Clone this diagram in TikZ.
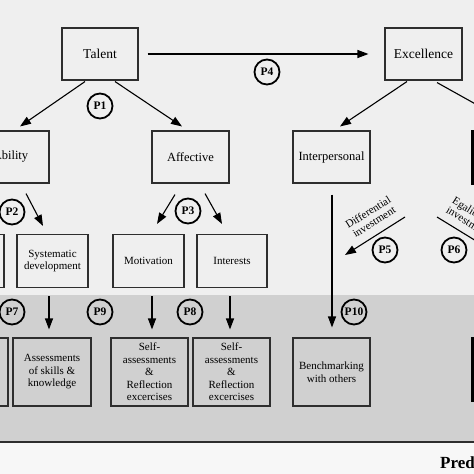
\documentclass[tikz,border=0pt]{standalone}
\usepackage{fontspec}
\setmainfont{Liberation Serif}
\usetikzlibrary{arrows.meta,calc}
\definecolor{bgtop}{HTML}{EFEFEF}
\definecolor{band}{HTML}{D0D0D0}
\definecolor{edge}{HTML}{2E2E2E}
\begin{document}
\begin{tikzpicture}[x=1pt,y=-1pt,
  box/.style={draw=edge, line width=1.1pt, fill=bgtop, align=center, inner sep=1pt,
    minimum width=77pt, minimum height=52pt, font=\fontsize{12.5}{14}\selectfont},
  topbox/.style={box, font=\fontsize{13.5}{15}\selectfont},
  midbox/.style={box, minimum width=71pt, minimum height=53pt, font=\fontsize{11}{12}\selectfont},
  lowbox/.style={box, fill=band, minimum width=77pt, minimum height=68pt, font=\fontsize{11}{12.5}\selectfont},
  darkbox/.style={draw=black, line width=3pt, fill=bgtop, minimum width=77pt, minimum height=52pt},
  pc/.style={circle, draw=black, line width=1.8pt, minimum size=25pt, inner sep=0pt,
    font=\bfseries\fontsize{11.5}{11.5}\selectfont},
  arr/.style={draw=black, line width=1.1pt, -{Triangle[length=11pt,width=8pt]}},
  lab/.style={align=center, font=\fontsize{11}{11.5}\selectfont, inner sep=0pt}]
\useasboundingbox (0,0) rectangle (474,474);
\clip (0,0) rectangle (474,474);
\fill[white!97!black] (0,0) rectangle (474,474);
\fill[bgtop] (0,0) rectangle (474,295);
\fill[band] (0,295) rectangle (474,442);
\draw[line width=1.3pt, edge] (0,442) -- (474,442);

% row 1
\node[topbox, minimum width=76pt] (talent) at (100,54) {Talent};
\node[topbox] (excellence) at (423.5,54) {Excellence};
% row 2
\node[box] (ability) at (10.5,157) {Ability};
\node[box] (affective) at (190.5,157) {Affective};
\node[box] (interpersonal) at (331.5,157) {Interpersonal};
\node[darkbox] (rightA) at (510.5,157) {};
% row 3
\node[midbox] (leftC) at (-31.5,261) {};
\node[midbox] (systematic) at (52.5,261) {Systematic\\development};
\node[midbox] (motivation) at (148.5,261) {Motivation};
\node[midbox, minimum width=70pt] (interests) at (232,261) {Interests};
% row 4
\node[lowbox, minimum width=78pt] (leftD) at (-31,372) {};
\node[lowbox, minimum width=78pt] (assess) at (52,372) {Assessments\\of skills \&\\knowledge};
\node[lowbox] (selfA) at (149.5,372) {Self-\\assessments\\\&\\Reflection\\excercises};
\node[lowbox] (selfB) at (231.5,372) {Self-\\assessments\\\&\\Reflection\\excercises};
\node[lowbox] (bench) at (331.5,372) {Benchmarking\\with others};
\node[darkbox, fill=band, minimum height=62pt] (rightD) at (510.5,369) {};

% circles
\node[pc] (p1) at (100,106) {P1};
\node[pc] (p4) at (267,72) {P4};
\node[pc] (p2) at (12,212) {P2};
\node[pc] (p3) at (188,211) {P3};
\node[pc] (p5) at (385,250) {P5};
\node[pc] (p6) at (454,250) {P6};
\node[pc] (p7) at (12,312) {P7};
\node[pc] (p9) at (100,312) {P9};
\node[pc] (p8) at (190,312) {P8};
\node[pc] (p10) at (354,312) {P10};

% connectors
\draw[arr] ($(talent.east)+(9,0)$) -- ($(excellence.west)+(-16,0)$);
\draw[arr] ($(talent.south)+(-15,1)$) -- ($(ability.north)+(9.5,-4)$);
\draw[arr] ($(talent.south)+(15,1)$) -- ($(affective.north)+(-8.5,-4)$);
\draw[arr] ($(excellence.south)+(-16.5,1)$) -- ($(interpersonal.north)+(8.5,-4)$);
\draw[arr] ($(excellence.south)+(13.5,2)$) -- ($(rightA.north)+(3.5,-4)$);
\draw[arr] ($(ability.south)+(15.5,10)$) -- ($(systematic.north)+(-9.5,-8)$);
\draw[arr] ($(affective.south)+(-15.5,11)$) -- ($(motivation.north)+(8.5,-10)$);
\draw[arr] ($(affective.south)+(14.5,10)$) -- ($(interests.north)+(-10,-10)$);
\draw[arr] ($(interpersonal.south)+(0.5,11)$) -- ($(bench.north)+(0.5,-10)$);
\draw[arr] ($(systematic.south)+(-3.5,8)$) -- ($(assess.north)+(-3,-8)$);
\draw[arr] ($(motivation.south)+(3.5,8)$) -- ($(selfA.north)+(2.5,-8)$);
\draw[arr] ($(interests.south)+(-2,8)$) -- ($(selfB.north)+(-1.5,-8)$);

% investment arrows
\coordinate (dstart) at (405,217);
\coordinate (dend) at (345,255);
\draw[arr] (dstart) -- (dend);
\node[lab, rotate=32] (difftext) at (371,217) {Differential\\investment};
\coordinate (estart) at (437,217);
\coordinate (eend) at (499,255);
\draw[arr] (estart) -- (eend);
\node[lab, rotate=-32] (egaltext) at (471,217) {Egalitarian\\investment};

\node[anchor=base west, inner sep=0pt, font=\bfseries\fontsize{17}{17}\selectfont] (pred) at (440,468) {Pred};
\end{tikzpicture}
\end{document}
